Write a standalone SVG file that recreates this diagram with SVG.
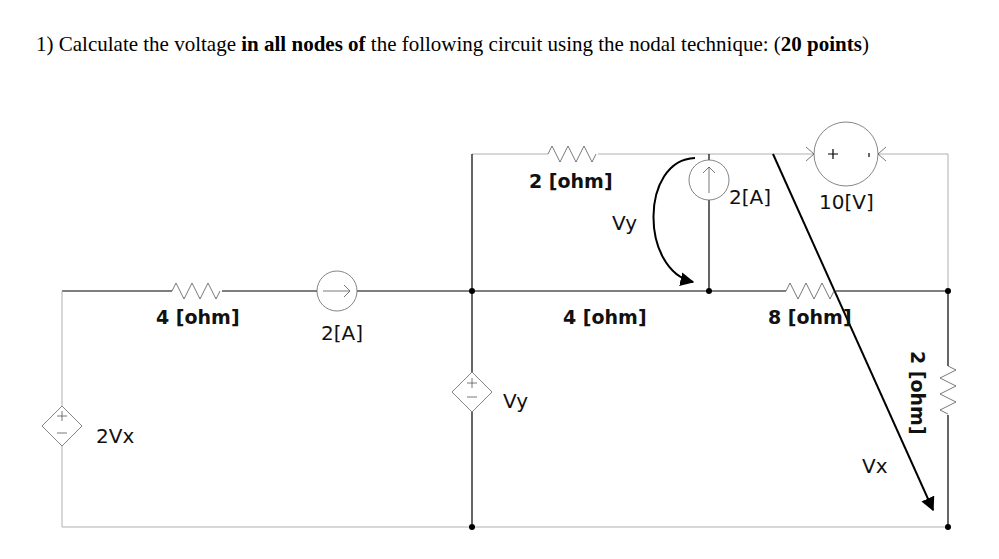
<svg xmlns="http://www.w3.org/2000/svg" width="999" height="559" viewBox="0 0 999 559">
<defs>
<style>
.g{stroke:#b0b0b0;stroke-width:1;fill:none}
.k{stroke:#000;stroke-width:1.2;fill:none}
.r{stroke:#555;stroke-width:0.8;fill:none}
.src{stroke:#666;stroke-width:0.8;fill:#fff}
.lb{font-family:"DejaVu Sans",sans-serif;font-size:19px;font-weight:bold;fill:#111}
.lt{font-family:"DejaVu Sans",sans-serif;font-size:20px;fill:#111}
.t{font-family:"Liberation Serif",serif;font-size:21px;fill:#000}
</style>
<marker id="ah" viewBox="0 0 10 10" refX="9" refY="5" markerWidth="7" markerHeight="7" orient="auto"><path d="M0,0L10,5L0,10z" fill="#000"/></marker>
</defs>
<rect width="999" height="559" fill="#fff"/>
<text class="t" x="36" y="51">1) Calculate the voltage <tspan font-weight="bold">in all nodes of</tspan> the following circuit using the nodal technique: (<tspan font-weight="bold">20 points</tspan>)</text>
<g id="connectors">
<path class="g" d="M472,154H548M598,154H814M878,154H948V291"/>
<path class="k" d="M472,154V372M472,412V527"/>
<path class="k" d="M709,154V160M709,200V291"/>
<path class="k" d="M62,291H172M222,291H317M357,291H786M836,291H948"/>
<path class="k" d="M948,291V366M948,415V527"/>
<path class="g" d="M62,291V406M62,446V527H948"/>
<path stroke="#000" stroke-width="2" fill="none" d="M773,154L933,510" marker-end="url(#ah)"/>
<path stroke="#000" stroke-width="2" fill="none" d="M695,158C640,160 640,270 693,282" marker-end="url(#ah)"/>
<g fill="#000"><circle cx="472" cy="291" r="3"/><circle cx="709" cy="291" r="3"/><circle cx="948" cy="291" r="3"/><circle cx="472" cy="527" r="3"/><circle cx="948" cy="527" r="3"/></g>
</g>
<g id="R1"><path class="r" d="M172,291l4,-8l8,16l8,-16l8,16l8,-16l8,16l4,-8"/><text class="lb" x="156" y="324">4 [ohm]</text></g>
<g id="I1"><circle class="src" cx="337" cy="291" r="20"/><path class="r" d="M323,291H350M344,285L350,291L344,297"/><text class="lt" x="321" y="340">2[A]</text></g>
<g id="R2"><path class="r" d="M548,154l4,-8l8,16l8,-16l8,16l8,-16l8,16l4,-8"/><text class="lb" x="529" y="188">2 [ohm]</text></g>
<g id="I2"><circle class="src" cx="709" cy="180" r="20"/><path class="r" d="M709,193V167M703,173L709,167L715,173"/><text class="lt" x="729" y="204">2[A]</text></g>
<g id="V1"><circle class="src" cx="846" cy="154" r="32"/><path class="k" d="M828,154h10M833,149v10M869,153v4"/><path class="r" d="M814,154l-8,-7M814,154l-8,7M878,154l8,-7M878,154l8,7"/><text class="lt" x="819" y="209">10[V]</text></g>
<g id="R3"><path class="r" d="M786,291l4,-8l8,16l8,-16l8,16l8,-16l8,16l4,-8"/><text class="lb" x="768" y="324">8 [ohm]</text></g>
<g id="R4"><path class="r" d="M948,366l8,4l-16,8l16,8l-16,8l16,8l-16,8l8,4"/><text class="lb" transform="translate(911,351) rotate(90)">2 [ohm]</text></g>
<g id="R5"><text class="lb" x="563" y="324">4 [ohm]</text></g>
<g id="D1"><path class="src" d="M62,406l20,20l-20,20l-20,-20z"/><path class="r" d="M57,416h10M62,411v10M57,433h10"/><text class="lt" x="96" y="443">2Vx</text></g>
<g id="D2"><path class="src" d="M472,372l20,20l-20,20l-20,-20z"/><path class="r" d="M467,383h10M472,378v10M467,397h10"/><text class="lt" x="503" y="408">Vy</text></g>
<text class="lt" x="612" y="230">Vy</text>
<text class="lt" x="862" y="473">Vx</text>
</svg>
